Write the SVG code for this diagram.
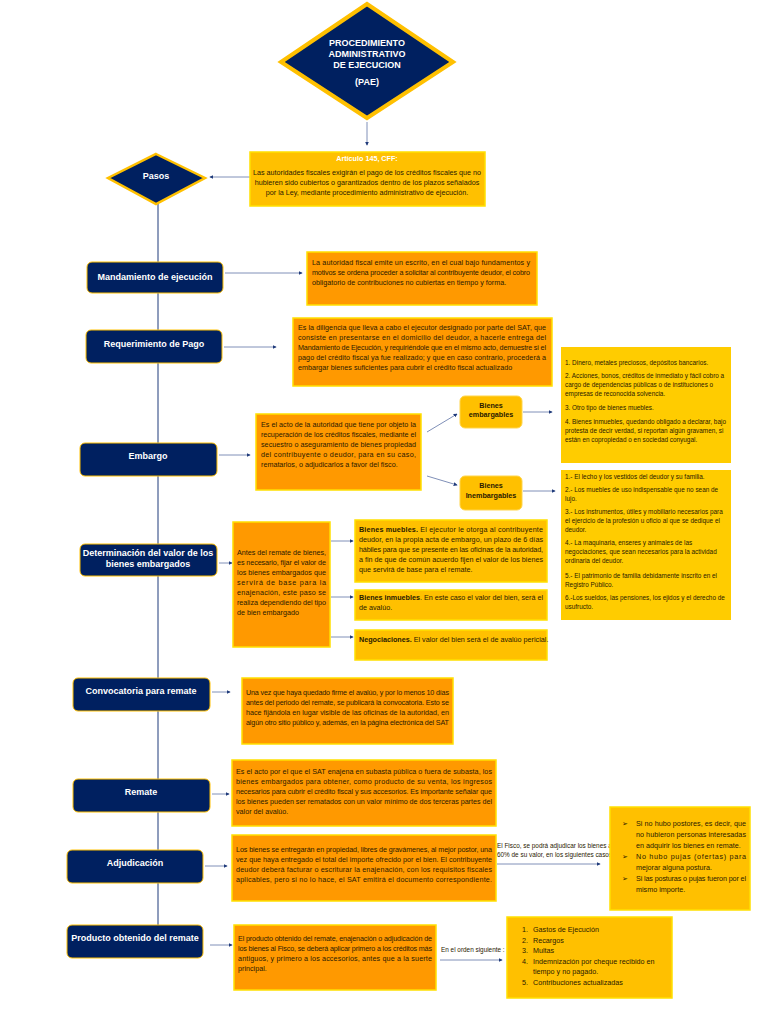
<svg xmlns="http://www.w3.org/2000/svg" width="768" height="1024" viewBox="0 0 768 1024">
<defs>
<marker id="ah" viewBox="0 0 6 6" refX="5" refY="3" markerWidth="4" markerHeight="4" orient="auto"><path d="M0,0L6,3L0,6z" fill="#1f3a7a"/></marker>
<style>
.nav{fill:#002060;stroke:#FFC000;stroke-width:1}
.nt{fill:#fff;font-family:"Liberation Sans",Arial,sans-serif;font-weight:bold;font-size:9px;text-anchor:middle}
.or{fill:#FF9900;stroke:#FFE000;stroke-width:1.5}
.ye{fill:#FFC000;stroke:#FFE000;stroke-width:1.5}
.ye2{fill:#FFCC00}
.t{fill:#2a1a00;font-family:"Liberation Sans Narrow","Liberation Sans",Arial,sans-serif;font-size:7.2px}
.s{fill:#2a1a00;font-family:"Liberation Sans Narrow","Liberation Sans",Arial,sans-serif;font-size:6.4px}
.c{stroke:#1f3a7a;stroke-width:1;fill:none}
.ca{stroke:#8090b8;stroke-width:1;fill:none;marker-end:url(#ah)}
</style>
</defs>
<rect width="768" height="1024" fill="#fff"/>
<g id="connectors">
<line class="ca" x1="367" y1="122" x2="367" y2="145"/>
<line class="ca" x1="250" y1="177" x2="210" y2="177"/>
<line class="c" x1="158" y1="204" x2="158" y2="926"/>
<line class="ca" x1="225" y1="273" x2="302" y2="273"/>
<line class="ca" x1="224" y1="347" x2="276" y2="347"/>
<line class="ca" x1="219" y1="455" x2="250" y2="455"/>
<line class="ca" x1="219" y1="563" x2="232" y2="563"/>
<line class="ca" x1="212" y1="692" x2="230" y2="692"/>
<line class="ca" x1="212" y1="794" x2="229" y2="794"/>
<line class="ca" x1="205" y1="866" x2="227" y2="866"/>
<line class="ca" x1="210" y1="945" x2="232" y2="945"/>
<line class="ca" x1="427" y1="432" x2="457" y2="414"/>
<line class="ca" x1="427" y1="476" x2="457" y2="485"/>
<line class="ca" x1="523" y1="412" x2="552" y2="412"/>
<line class="ca" x1="523" y1="491" x2="555" y2="491"/>
<line class="ca" x1="331" y1="541" x2="353" y2="541"/>
<line class="ca" x1="331" y1="597" x2="353" y2="597"/>
<line class="ca" x1="331" y1="637" x2="353" y2="637"/>
<line class="ca" x1="497" y1="864" x2="600" y2="864"/>
<line class="ca" x1="440" y1="960" x2="502" y2="960"/>
</g>
<g id="pae">
<polygon points="367,4 453,62 367,118 281,62" fill="#002060" stroke="#FFC000" stroke-width="4"/>
<text class="nt" font-size="8.5"><tspan x="367" y="46">PROCEDIMIENTO</tspan><tspan x="367" y="57">ADMINISTRATIVO</tspan><tspan x="367" y="68">DE EJECUCION</tspan><tspan x="367" y="85">(PAE)</tspan></text>
</g>
<g id="articulo">
<rect class="ye" x="250" y="152" width="235" height="54"/>
<text class="t" text-anchor="middle" fill="#fff" style="fill:#fff;font-weight:bold" x="367" y="161">Artículo 145, CFF:</text>
<text class="t" text-anchor="middle"><tspan x="367" y="175">Las autoridades fiscales exigirán el pago de los créditos fiscales que no</tspan><tspan x="367" y="185">hubieren sido cubiertos o garantizados dentro de los plazos señalados</tspan><tspan x="367" y="195">por la Ley, mediante procedimiento administrativo de ejecución.</tspan></text>
</g>
<g id="pasos">
<polygon points="156,154 205,178 156,204 108,178" fill="#002060" stroke="#FFC000" stroke-width="2.5"/>
<text class="nt" x="156" y="179">Pasos</text>
</g>
<g id="n-mandamiento"><rect class="nav" x="87" y="262" width="136" height="31" rx="5"/><text class="nt" x="155" y="280">Mandamiento de ejecución</text></g>
<g id="n-requerimiento"><rect class="nav" x="86" y="330" width="136" height="33" rx="5"/><text class="nt" x="154" y="347">Requerimiento de Pago</text></g>
<g id="n-embargo"><rect class="nav" x="80" y="443" width="137" height="33" rx="5"/><text class="nt" x="148" y="459">Embargo</text></g>
<g id="n-determinacion"><rect class="nav" x="80" y="544" width="137" height="32" rx="5"/><text class="nt"><tspan x="148" y="556">Determinación del valor de los</tspan><tspan x="148" y="567">bienes embargados</tspan></text></g>
<g id="n-convocatoria"><rect class="nav" x="73" y="678" width="137" height="33" rx="5"/><text class="nt" x="141" y="694">Convocatoria para remate</text></g>
<g id="n-remate"><rect class="nav" x="73" y="779" width="137" height="33" rx="5"/><text class="nt" x="141" y="795">Remate</text></g>
<g id="n-adjudicacion"><rect class="nav" x="67" y="850" width="136" height="33" rx="5"/><text class="nt" x="135" y="866">Adjudicación</text></g>
<g id="n-producto"><rect class="nav" x="67" y="925" width="136" height="33" rx="5"/><text class="nt" x="135" y="941">Producto obtenido del remate</text></g>

<g id="d-mandamiento"><rect class="or" x="307" y="252" width="230" height="53"/>
<text class="t"><tspan x="312" y="265" textLength="218" lengthAdjust="spacing">La autoridad fiscal emite un escrito, en el cual bajo fundamentos y</tspan><tspan x="312" y="275" textLength="218" lengthAdjust="spacing">motivos se ordena proceder a solicitar al contribuyente deudor, el cobro</tspan><tspan x="312" y="285">obligatorio de contribuciones no cubiertas en tiempo y forma.</tspan></text></g>
<g id="d-requerimiento"><rect class="or" x="293" y="318" width="259" height="68"/>
<text class="t"><tspan x="298" y="330" textLength="248" lengthAdjust="spacing">Es la diligencia que lleva a cabo el ejecutor designado por parte del SAT, que</tspan><tspan x="298" y="340" textLength="248" lengthAdjust="spacing">consiste en presentarse en el domicilio del deudor, a hacerle entrega del</tspan><tspan x="298" y="350" textLength="248" lengthAdjust="spacing">Mandamiento de Ejecución, y requiriéndole que en el mismo acto, demuestre si el</tspan><tspan x="298" y="360" textLength="248" lengthAdjust="spacing">pago del crédito fiscal ya fue realizado; y que en caso contrario, procederá a</tspan><tspan x="298" y="370">embargar bienes suficientes para cubrir el crédito fiscal actualizado</tspan></text></g>
<g id="d-embargo"><rect class="or" x="256" y="414" width="165" height="76"/>
<text class="t"><tspan x="261" y="427" textLength="155" lengthAdjust="spacing">Es el acto de la autoridad que tiene por objeto la</tspan><tspan x="261" y="437" textLength="155" lengthAdjust="spacing">recuperación de los créditos fiscales, mediante el</tspan><tspan x="261" y="447" textLength="155" lengthAdjust="spacing">secuestro o aseguramiento de bienes propiedad</tspan><tspan x="261" y="457" textLength="155" lengthAdjust="spacing">del contribuyente o deudor, para en su caso,</tspan><tspan x="261" y="467">rematarlos, o adjudicarlos a favor del fisco.</tspan></text></g>
<g id="embargables"><rect x="460" y="396" width="62" height="32" rx="5" fill="#FFC000" stroke="#FFD54A"/>
<text class="t" text-anchor="middle" style="font-weight:bold"><tspan x="491" y="408">Bienes</tspan><tspan x="491" y="417">embargables</tspan></text></g>
<g id="inembargables"><rect x="460" y="476" width="62" height="34" rx="5" fill="#FFC000" stroke="#FFD54A"/>
<text class="t" text-anchor="middle" style="font-weight:bold"><tspan x="491" y="488">Bienes</tspan><tspan x="491" y="498">Inembargables</tspan></text></g>
<g id="l-embargables"><rect class="ye2" x="561" y="347" width="170" height="116"/>
<text class="s"><tspan x="565" y="365">1. Dinero, metales preciosos, depósitos bancarios.</tspan><tspan x="565" y="378">2. Acciones, bonos, créditos de inmediato y fácil cobro a</tspan><tspan x="565" y="387">cargo de dependencias públicas o de instituciones o</tspan><tspan x="565" y="396">empresas de reconocida solvencia.</tspan><tspan x="565" y="410">3. Otro tipo de bienes muebles.</tspan><tspan x="565" y="424">4. Bienes inmuebles, quedando obligado a declarar, bajo</tspan><tspan x="565" y="433">protesta de decir verdad, si reportan algún gravamen, si</tspan><tspan x="565" y="442">están en copropiedad o en sociedad conyugal.</tspan></text></g>
<g id="l-inembargables"><rect class="ye2" x="561" y="470" width="170" height="150"/>
<text class="s"><tspan x="565" y="479">1.- El lecho y los vestidos del deudor y su familia.</tspan><tspan x="565" y="492">2.- Los muebles de uso indispensable que no sean de</tspan><tspan x="565" y="501">lujo.</tspan><tspan x="565" y="514">3.- Los instrumentos, útiles y mobiliario necesarios para</tspan><tspan x="565" y="523">el ejercicio de la profesión u oficio al que se dedique el</tspan><tspan x="565" y="532">deudor.</tspan><tspan x="565" y="545">4.- La maquinaria, enseres y animales de las</tspan><tspan x="565" y="554">negociaciones, que sean necesarios para la actividad</tspan><tspan x="565" y="563">ordinaria del deudor.</tspan><tspan x="565" y="578">5.- El patrimonio de familia debidamente inscrito en el</tspan><tspan x="565" y="587">Registro Público.</tspan><tspan x="565" y="600">6.-Los sueldos, las pensiones, los ejidos y el derecho de</tspan><tspan x="565" y="609">usufructo.</tspan></text></g>
<g id="d-determinacion"><rect class="or" x="233" y="522" width="97" height="125"/>
<text class="t"><tspan x="237" y="555" textLength="89" lengthAdjust="spacing">Antes del remate de bienes,</tspan><tspan x="237" y="565" textLength="89" lengthAdjust="spacing">es necesario, fijar el valor de</tspan><tspan x="237" y="575" textLength="89" lengthAdjust="spacing">los bienes embargados que</tspan><tspan x="237" y="585" textLength="89" lengthAdjust="spacing">servirá de base para la</tspan><tspan x="237" y="595" textLength="89" lengthAdjust="spacing">enajenación, este paso se</tspan><tspan x="237" y="605" textLength="89" lengthAdjust="spacing">realiza dependiendo del tipo</tspan><tspan x="237" y="615">de bien embargado</tspan></text></g>
<g id="v-muebles"><rect class="ye" x="355" y="520" width="192" height="62"/>
<text class="t"><tspan x="359" y="532" textLength="184" lengthAdjust="spacing"><tspan font-weight="bold">Bienes muebles.</tspan> El ejecutor le otorga al contribuyente</tspan><tspan x="359" y="542" textLength="184" lengthAdjust="spacing">deudor, en la propia acta de embargo, un plazo de 6 días</tspan><tspan x="359" y="552" textLength="184" lengthAdjust="spacing">hábiles para que se presente en las oficinas de la autoridad,</tspan><tspan x="359" y="562" textLength="184" lengthAdjust="spacing">a fin de que de común acuerdo fijen el valor de los bienes</tspan><tspan x="359" y="572">que servirá de base para el remate.</tspan></text></g>
<g id="v-inmuebles"><rect class="ye" x="355" y="590" width="192" height="30"/>
<text class="t"><tspan x="359" y="600" textLength="184" lengthAdjust="spacing"><tspan font-weight="bold">Bienes inmuebles</tspan>. En este caso el valor del bien, será el</tspan><tspan x="359" y="610">de avalúo.</tspan></text></g>
<g id="v-negociaciones"><rect class="ye" x="355" y="630" width="192" height="30"/>
<text class="t" x="359" y="642"><tspan font-weight="bold">Negociaciones.</tspan> El valor del bien será el de avalúo pericial.</text></g>
<g id="d-convocatoria"><rect class="or" x="242" y="678" width="211" height="66"/>
<text class="t"><tspan x="246" y="695" textLength="203" lengthAdjust="spacing">Una vez que haya quedado firme el avalúo, y por lo menos 10 días</tspan><tspan x="246" y="705" textLength="203" lengthAdjust="spacing">antes del periodo del remate, se publicará la convocatoria. Esto se</tspan><tspan x="246" y="715" textLength="203" lengthAdjust="spacing">hace fijándola en lugar visible de las oficinas de la autoridad, en</tspan><tspan x="246" y="725" textLength="203" lengthAdjust="spacing">algún otro sitio público y, además, en la página electrónica del SAT</tspan></text></g>
<g id="d-remate"><rect class="or" x="232" y="760" width="264" height="66"/>
<text class="t"><tspan x="236" y="774" textLength="256" lengthAdjust="spacing">Es el acto por el que el SAT enajena en subasta pública o fuera de subasta, los</tspan><tspan x="236" y="784" textLength="256" lengthAdjust="spacing">bienes embargados para obtener, como producto de su venta, los ingresos</tspan><tspan x="236" y="794" textLength="256" lengthAdjust="spacing">necesarios para cubrir el crédito fiscal y sus accesorios. Es importante señalar que</tspan><tspan x="236" y="804" textLength="256" lengthAdjust="spacing">los bienes pueden ser rematados con un valor mínimo de dos terceras partes del</tspan><tspan x="236" y="814">valor del avalúo.</tspan></text></g>
<g id="d-adjudicacion"><rect class="or" x="232" y="835" width="264" height="66"/>
<text class="t"><tspan x="236" y="852" textLength="256" lengthAdjust="spacing">Los bienes se entregarán en propiedad, libres de gravámenes, al mejor postor, una</tspan><tspan x="236" y="862" textLength="256" lengthAdjust="spacing">vez que haya entregado el total del importe ofrecido por el bien. El contribuyente</tspan><tspan x="236" y="872" textLength="256" lengthAdjust="spacing">deudor deberá facturar o escriturar la enajenación, con los requisitos fiscales</tspan><tspan x="236" y="882" textLength="256" lengthAdjust="spacing">aplicables, pero si no lo hace, el SAT emitirá el documento correspondiente.</tspan></text></g>
<text class="s" font-size="6"><tspan x="497" y="848">El Fisco, se podrá adjudicar los bienes al</tspan><tspan x="497" y="857">60% de su valor, en los siguientes casos:</tspan></text>
<g id="casos"><rect class="ye" x="610" y="807" width="140" height="103"/>
<text class="t"><tspan x="622" y="826">➢</tspan><tspan x="636" y="826" textLength="110" lengthAdjust="spacing">Si no hubo postores, es decir, que</tspan><tspan x="636" y="837" textLength="110" lengthAdjust="spacing">no hubieron personas interesadas</tspan><tspan x="636" y="848">en adquirir los bienes en remate.</tspan><tspan x="622" y="859">➢</tspan><tspan x="636" y="859" textLength="110" lengthAdjust="spacing">No hubo pujas (ofertas) para</tspan><tspan x="636" y="870">mejorar alguna postura.</tspan><tspan x="622" y="881">➢</tspan><tspan x="636" y="881" textLength="110" lengthAdjust="spacing">Si las posturas o pujas fueron por el</tspan><tspan x="636" y="892">mismo importe.</tspan></text></g>
<g id="d-producto"><rect class="or" x="234" y="925" width="202" height="65"/>
<text class="t"><tspan x="238" y="941" textLength="194" lengthAdjust="spacing">El producto obtenido del remate, enajenación o adjudicación de</tspan><tspan x="238" y="951" textLength="194" lengthAdjust="spacing">los bienes al Fisco, se deberá aplicar primero a los créditos más</tspan><tspan x="238" y="961" textLength="194" lengthAdjust="spacing">antiguos, y primero a los accesorios, antes que a la suerte</tspan><tspan x="238" y="971">principal.</tspan></text></g>
<text class="s" font-size="6" x="441" y="952">En el orden siguiente :</text>
<g id="orden"><rect class="ye" x="507" y="917" width="165" height="81"/>
<text class="t"><tspan x="522" y="932">1.</tspan><tspan x="533" y="932">Gastos de Ejecución</tspan><tspan x="522" y="943">2.</tspan><tspan x="533" y="943">Recargos</tspan><tspan x="522" y="953">3.</tspan><tspan x="533" y="953">Multas</tspan><tspan x="522" y="964">4.</tspan><tspan x="533" y="964">Indemnización por cheque recibido en</tspan><tspan x="533" y="974">tiempo y no pagado.</tspan><tspan x="522" y="985">5.</tspan><tspan x="533" y="985">Contribuciones actualizadas</tspan></text></g>
</svg>
